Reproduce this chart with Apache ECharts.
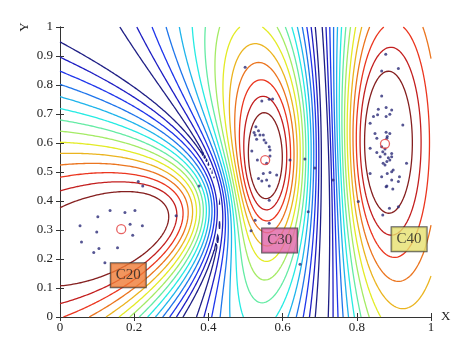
<!DOCTYPE html>
<html>
<head>
<meta charset="utf-8">
<style>
  html, body { margin: 0; padding: 0; background: #fff; }
  #main { width: 474px; height: 354px; }
</style>
<script src="https://cdn.jsdelivr.net/npm/echarts@6/dist/echarts.min.js"></script>
</head>
<body>
<div id="main"></div>
<script>
// cluster prototypes, with the shape of each cluster's norm
const clusterNames = ['C20', 'C30', 'C40']
const centres = [[0.165, 0.303], [0.553, 0.541], [0.876, 0.597]]
const spreadAlong = [0.088, 0.040, 0.040]
const spreadAcross = [0.052, 0.120, 0.144]
const tilt = [0.55, 0, 0]
const fuzzifier = 2
const labelAt = [[0.184, 0.144], [0.592, 0.264], [0.941, 0.268]]
const labelFill = ['#ef7a35', '#e064a6', '#e6e06e']

// contour levels of the largest membership
const levels = [0.48, 0.515, 0.55, 0.585, 0.62, 0.655, 0.69, 0.725, 0.76, 0.795, 0.83, 0.865, 0.9, 0.935]

const c20Pts = [[0.211, 0.467], [0.223, 0.452], [0.135, 0.367], [0.175, 0.360], [0.202, 0.367], [0.102, 0.346],
  [0.054, 0.315], [0.189, 0.320], [0.222, 0.315], [0.099, 0.293], [0.196, 0.282], [0.058, 0.259], [0.105, 0.236],
  [0.155, 0.239], [0.091, 0.222], [0.121, 0.187], [0.313, 0.349], [0.375, 0.452]]
const c30Pts = [[0.499, 0.861], [0.544, 0.745], [0.564, 0.751], [0.573, 0.752], [0.528, 0.656], [0.535, 0.642],
  [0.523, 0.636], [0.526, 0.628], [0.539, 0.628], [0.548, 0.628], [0.530, 0.613], [0.550, 0.610], [0.555, 0.601],
  [0.564, 0.587], [0.566, 0.576], [0.517, 0.572], [0.532, 0.541], [0.566, 0.555], [0.557, 0.530], [0.620, 0.541],
  [0.660, 0.545], [0.548, 0.495], [0.566, 0.498], [0.584, 0.490], [0.535, 0.478], [0.544, 0.469], [0.557, 0.472],
  [0.564, 0.452], [0.564, 0.403], [0.526, 0.334], [0.564, 0.323], [0.515, 0.297], [0.669, 0.363], [0.647, 0.182],
  [0.687, 0.514]]
const c40Pts = [[0.878, 0.906], [0.912, 0.857], [0.867, 0.848], [0.867, 0.762], [0.879, 0.722], [0.894, 0.714],
  [0.889, 0.699], [0.924, 0.662], [0.845, 0.691], [0.856, 0.697], [0.879, 0.691], [0.858, 0.716], [0.879, 0.637],
  [0.889, 0.633], [0.882, 0.622], [0.836, 0.668], [0.849, 0.633], [0.854, 0.616], [0.881, 0.616], [0.867, 0.587],
  [0.876, 0.579], [0.870, 0.570], [0.836, 0.582], [0.854, 0.567], [0.863, 0.553], [0.876, 0.562], [0.894, 0.553],
  [0.894, 0.564], [0.885, 0.549], [0.881, 0.536], [0.889, 0.541], [0.871, 0.530], [0.876, 0.524], [0.934, 0.530],
  [0.894, 0.501], [0.898, 0.507], [0.836, 0.495], [0.882, 0.495], [0.867, 0.484], [0.915, 0.484], [0.912, 0.467],
  [0.879, 0.449], [0.897, 0.441], [0.881, 0.452], [0.894, 0.472], [0.888, 0.375], [0.912, 0.380], [0.870, 0.352],
  [0.804, 0.398], [0.736, 0.472]]

const xTicks = [0, 0.2, 0.4, 0.6, 0.8, 1]
const yTicks = [0, 0.1, 0.2, 0.3, 0.4, 0.5, 0.6, 0.7, 0.8, 0.9, 1]

const serif = 'Liberation Serif'

// largest fuzzy membership, each cluster with its own norm
function membership(x, y) {
  let sum = 0, best = 0
  const p = 1 / (fuzzifier - 1)
  for (let k = 0; k < centres.length; k++) {
    const dx = x - centres[k][0], dy = y - centres[k][1]
    const c = Math.cos(tilt[k]), s = Math.sin(tilt[k])
    const a = (dx * c + dy * s) / spreadAlong[k]
    const b = (-dx * s + dy * c) / spreadAcross[k]
    const w = Math.pow(Math.max(a * a + b * b, 1e-12), -p)
    sum += w
    if (w > best) best = w
  }
  return best / sum
}

const N = 200
const grid = []
for (let j = 0; j <= N; j++) {
  const row = []
  for (let i = 0; i <= N; i++) row.push(membership(i / N, j / N))
  grid.push(row)
}

// marching squares, segments chained into polylines
function isoLines(level) {
  const nbr = new Map()
  const pos = new Map()
  const cross = (id, xa, ya, va, xb, yb, vb) => {
    if (!pos.has(id)) {
      const t = (level - va) / (vb - va)
      pos.set(id, [xa + t * (xb - xa), ya + t * (yb - ya)])
    }
    return id
  }
  const link = (a, b) => {
    if (!nbr.has(a)) nbr.set(a, [])
    if (!nbr.has(b)) nbr.set(b, [])
    nbr.get(a).push(b)
    nbr.get(b).push(a)
  }
  for (let j = 0; j < N; j++) {
    for (let i = 0; i < N; i++) {
      const x0 = i / N, x1 = (i + 1) / N, y0 = j / N, y1 = (j + 1) / N
      const bl = grid[j][i], br = grid[j][i + 1], tr = grid[j + 1][i + 1], tl = grid[j + 1][i]
      const sBL = bl >= level, sBR = br >= level, sTR = tr >= level, sTL = tl >= level
      const e = {}
      let n = 0
      if (sBL !== sBR) { e.b = cross('h' + i + '_' + j, x0, y0, bl, x1, y0, br); n++ }
      if (sBR !== sTR) { e.r = cross('v' + (i + 1) + '_' + j, x1, y0, br, x1, y1, tr); n++ }
      if (sTL !== sTR) { e.t = cross('h' + i + '_' + (j + 1), x0, y1, tl, x1, y1, tr); n++ }
      if (sBL !== sTL) { e.l = cross('v' + i + '_' + j, x0, y0, bl, x0, y1, tl); n++ }
      if (n === 2) {
        const ks = Object.keys(e)
        link(e[ks[0]], e[ks[1]])
      } else if (n === 4) {
        const sc = (bl + br + tr + tl) / 4 >= level
        if (sc === sBL) { link(e.b, e.r); link(e.t, e.l) } else { link(e.b, e.l); link(e.r, e.t) }
      }
    }
  }
  const used = new Set()
  const paths = []
  const walk = start => {
    const path = [pos.get(start)]
    used.add(start)
    let cur = start
    for (;;) {
      const next = nbr.get(cur).find(q => !used.has(q))
      if (next === undefined) break
      path.push(pos.get(next))
      used.add(next)
      cur = next
    }
    return path
  }
  for (const [id, list] of nbr) if (list.length === 1 && !used.has(id)) paths.push(walk(id))
  for (const [id] of nbr) {
    if (!used.has(id)) {
      const p = walk(id)
      p.push(p[0])
      paths.push(p)
    }
  }
  return paths
}

// jet colour map, softened a little like the printed figure
function jet(t) {
  const f = v => Math.max(0, Math.min(1, v))
  const rgb = [f(1.5 - Math.abs(4 * t - 3)), f(1.5 - Math.abs(4 * t - 2)), f(1.5 - Math.abs(4 * t - 1))]
  return 'rgb(' + rgb.map(v => Math.round(255 * (0.8 * v + 0.2 * 0.6))).join(',') + ')'
}

const contourSeries = levels.map((level, k) => ({
  type: 'lines',
  coordinateSystem: 'cartesian2d',
  polyline: true,
  silent: true,
  lineStyle: { color: jet(k / (levels.length - 1)), width: 1.3, opacity: 1 },
  data: isoLines(level).map(p => ({ coords: p }))
}))

const tickAxis = (extra) => Object.assign({
  type: 'value',
  min: 0,
  max: 1,
  axisLine: { show: true, lineStyle: { color: '#333', width: 1 } },
  axisTick: { show: true, inside: true, length: 4, lineStyle: { color: '#333' } },
  splitLine: { show: false },
  axisLabel: { show: false }
}, extra)

const chart = echarts.init(document.getElementById('main'))
chart.setOption({
  animation: false,
  backgroundColor: '#fff',
  grid: { left: 60, right: 43, top: 27, bottom: 37 },
  xAxis: [
    tickAxis({
      position: 'bottom', interval: xTicks[1] - xTicks[0],
      axisLabel: { show: true, margin: 4, fontFamily: serif, fontSize: 13, color: '#222' },
      name: 'X', nameLocation: 'end', nameGap: 10,
      nameTextStyle: { fontFamily: serif, fontSize: 13, color: '#222', padding: [20, 0, 0, 0] }
    }),
    tickAxis({ position: 'top', interval: xTicks[1] - xTicks[0] })
  ],
  yAxis: [
    tickAxis({
      position: 'left', interval: yTicks[1] - yTicks[0],
      axisLabel: { show: true, margin: 7, fontFamily: serif, fontSize: 13, color: '#222' }
    }),
    tickAxis({ position: 'right', interval: yTicks[1] - yTicks[0] })
  ],
  graphic: [{
    type: 'text', x: 25, y: 27, rotation: Math.PI / 2,
    style: { text: 'Y', fontFamily: serif, fontSize: 13, fill: '#222', align: 'center', verticalAlign: 'middle' }
  }],
  series: contourSeries.concat([
    {
      type: 'scatter', symbol: 'circle', symbolSize: 3, silent: true,
      itemStyle: { color: '#2c2c78' },
      data: c20Pts.concat(c30Pts, c40Pts)
    },
    {
      type: 'scatter', symbol: 'circle', symbolSize: 9, silent: true,
      itemStyle: { color: 'rgba(0,0,0,0)', borderColor: '#e23b3b', borderWidth: 1.3 },
      data: centres
    },
    {
      type: 'scatter', symbolSize: 0, silent: true, z: 5,
      data: labelAt.map((p, k) => ({
        value: p,
        label: {
          show: true, position: 'inside', formatter: clusterNames[k],
          fontFamily: serif, fontSize: 15, color: '#222',
          backgroundColor: labelFill[k], borderColor: '#333', borderWidth: 1,
          padding: [5, 5, 4, 5]
        }
      }))
    }
  ])
})
</script>
</body>
</html>
